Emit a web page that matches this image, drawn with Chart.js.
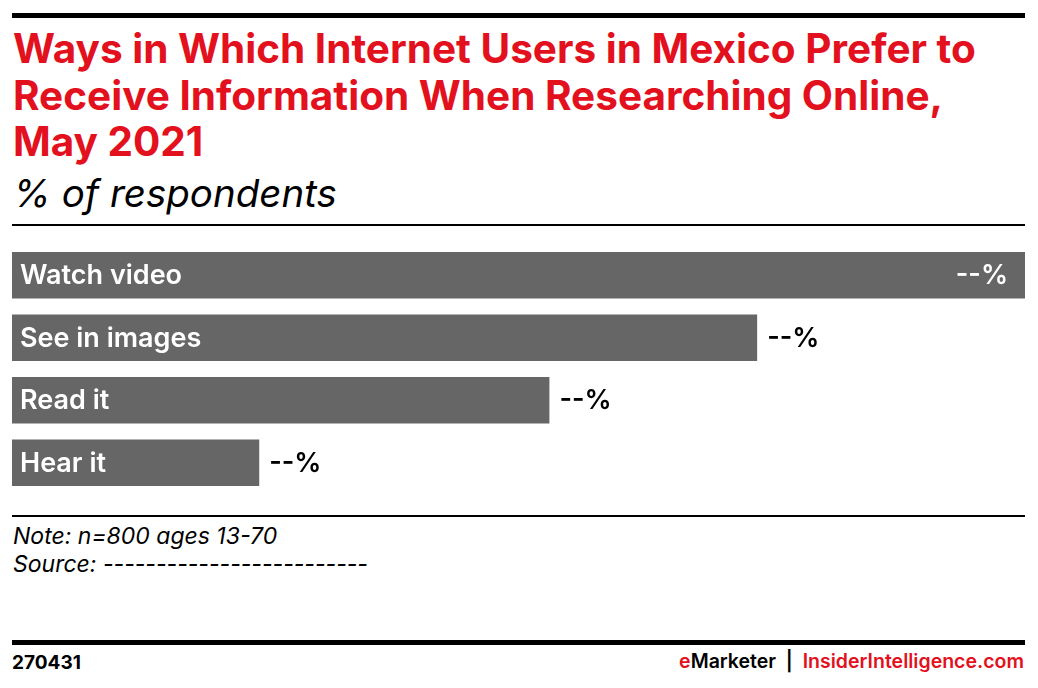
<!DOCTYPE html>
<html>
<head>
<meta charset="utf-8">
<script src="https://cdn.jsdelivr.net/npm/chart.js@4.4.0/dist/chart.umd.min.js"></script>
<style>
  html, body { margin: 0; padding: 0; background: #fff; }
  body { width: 1038px; height: 688px; position: relative; overflow: hidden; font-family: "Inter", "Roboto", sans-serif; }
  .rule { position: absolute; left: 12px; width: 1013px; background: #000; }
  #title { position: absolute; left: 13px; top: 26px; margin: 0; color: #e3101d; font-weight: 700; font-size: 40.5px; line-height: 46.5px; letter-spacing: 0; }
  #subtitle { position: absolute; left: 13px; top: 170px; font-style: italic; font-weight: 400; font-size: 38.5px; color: #000; }
  #wrap { position: absolute; left: 12px; top: 244px; width: 1013px; height: 250px; }
  #note { position: absolute; left: 13px; top: 522px; font-style: italic; font-size: 23px; line-height: 28px; color: #000; }
  #code { position: absolute; left: 12px; top: 651px; font-weight: 700; font-size: 19px; }
  #brand { position: absolute; right: 14px; top: 649px; font-weight: 600; font-size: 19.5px; }
  .red { color: #e3101d; }
</style>
</head>
<body>
<div class="rule" style="top:13px;height:5px"></div>
<h1 id="title">Ways in Which Internet Users in Mexico Prefer to<br>Receive Information When Researching Online,<br>May 2021</h1>
<div id="subtitle">% of respondents</div>
<div class="rule" style="top:224px;height:2px"></div>
<div id="wrap"><canvas id="chart"></canvas></div>
<div class="rule" style="top:515px;height:2px"></div>
<div id="note">Note: n=800 ages 13-70<br>Source: -------------------------</div>
<div class="rule" style="top:640px;height:5px"></div>
<div id="code">270431</div>
<div id="brand"><span class="red">e</span>Marketer &nbsp;|&nbsp; <span class="red">InsiderIntelligence.com</span></div>

<script>
// 카테고리와 값 (값은 그림에서 막대 길이로 추정)
const categories = ["Watch video", "See in images", "Read it", "Hear it"];
const values = [59.0, 43.4, 31.3, 14.4];
const valueLabels = ["--%", "--%", "--%", "--%"];

const barColor = "#666666";

// 막대 안 이름, 끝 값 라벨 그리기
const barLabels = {
	id: "barLabels",
	afterDatasetsDraw(chart) {
		const ctx = chart.ctx;
		const meta = chart.getDatasetMeta(0);
		const area = chart.chartArea;
		ctx.save();
		ctx.textBaseline = "middle";
		meta.data.forEach(function (bar, i) {
			ctx.font = "600 27px Inter, Roboto, sans-serif";
			ctx.fillStyle = "#fff";
			ctx.textAlign = "left";
			ctx.fillText(categories[i], bar.base + 8, bar.y + 1);

			let w = ctx.measureText(valueLabels[i]).width;
			if (bar.x + 10 + w > area.right) {
				ctx.fillStyle = "#fff";
				ctx.textAlign = "right";
				ctx.fillText(valueLabels[i], bar.x - 17, bar.y + 1);
			} else {
				ctx.fillStyle = "#000";
				ctx.textAlign = "left";
				ctx.fillText(valueLabels[i], bar.x + 10, bar.y + 1);
			}
		});
		ctx.restore();
	}
};

new Chart(document.getElementById("chart"), {
	type: "bar",
	data: {
		labels: categories,
		datasets: [{
			data: values,
			backgroundColor: barColor,
			barPercentage: 0.747,
			categoryPercentage: 1.0
		}]
	},
	options: {
		indexAxis: "y",
		responsive: true,
		maintainAspectRatio: false,
		animation: false,
		layout: { padding: 0 },
		plugins: {
			legend: { display: false },
			tooltip: { enabled: false }
		},
		scales: {
			x: { display: false, min: 0, max: values[0] },
			y: { display: false }
		}
	},
	plugins: [barLabels]
});
</script>
</body>
</html>
